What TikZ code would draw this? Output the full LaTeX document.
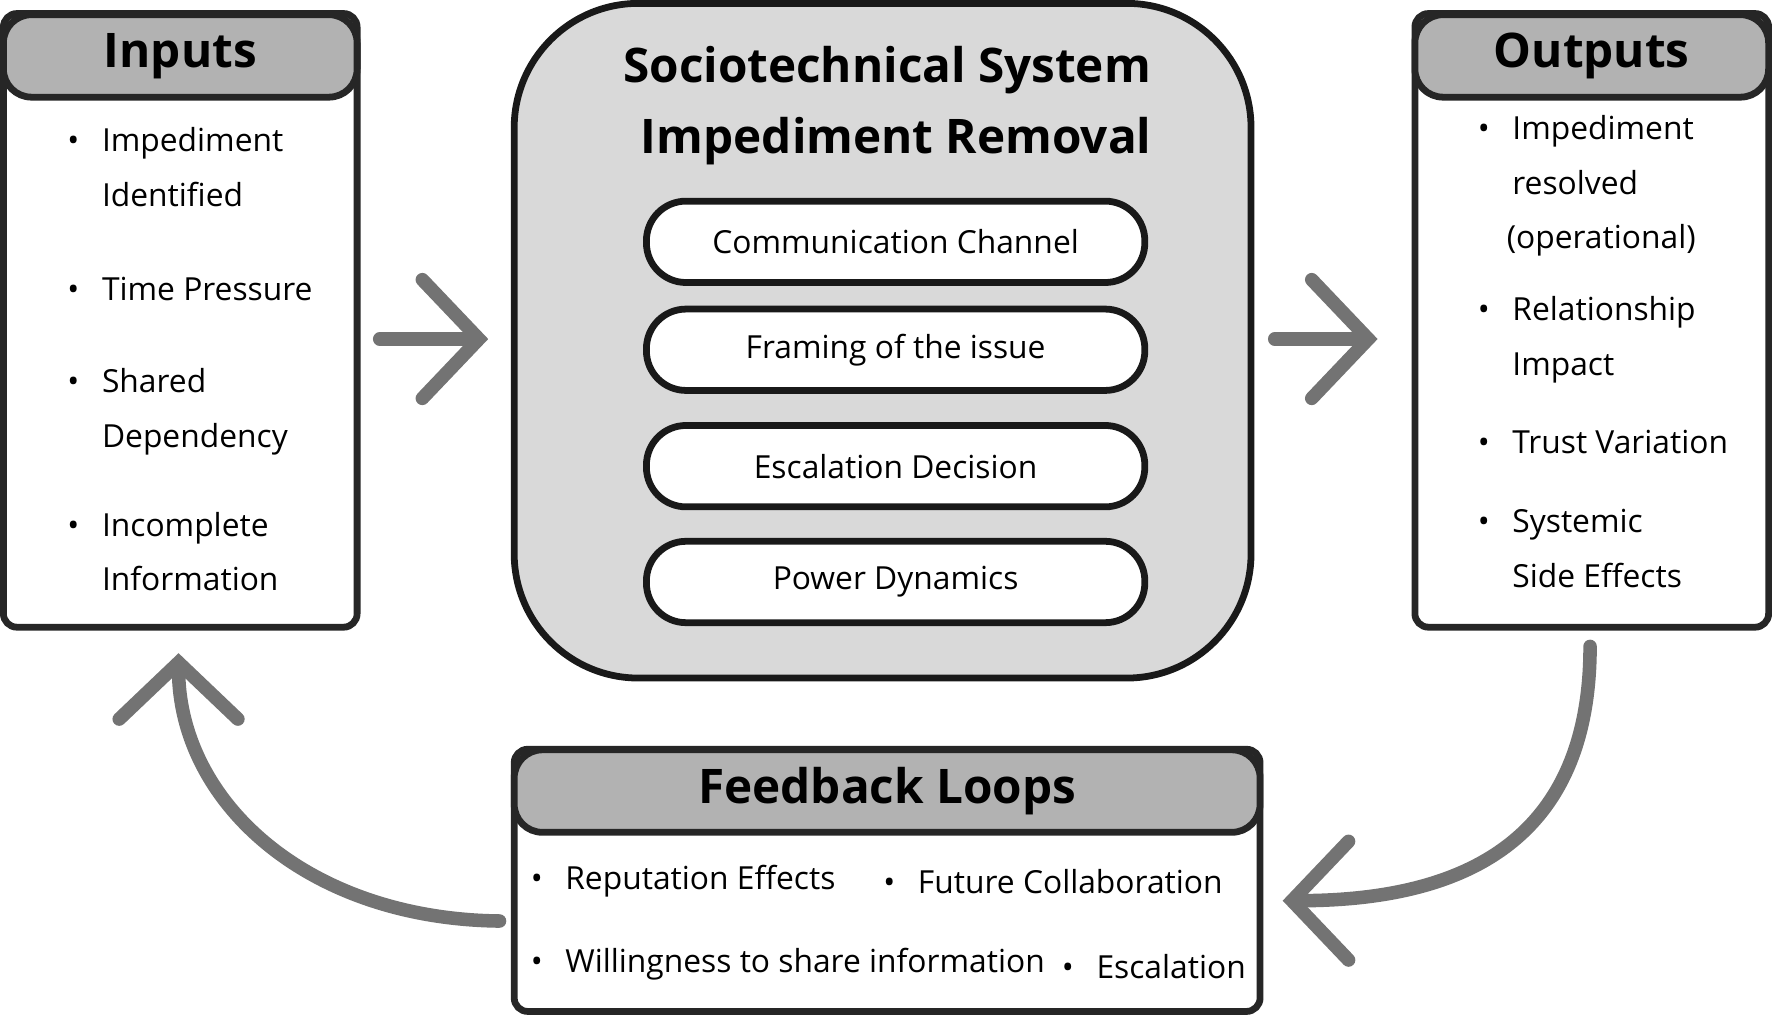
\documentclass[tikz,border=0pt]{standalone}
\usepackage{fontspec}
\setmainfont{Open Sans}
\usetikzlibrary{arrows.meta,positioning}

\begin{document}
\begin{tikzpicture}[
  box/.style={draw=black!85, line width=0.06cm, rounded corners=0.12cm, fill=white},
  head/.style={draw=black!85, line width=0.06cm, rounded corners=0.25cm, fill=black!30,
    minimum height=0.73cm, font=\fontsize{12}{14}\selectfont\bfseries},
  pill/.style={draw=black!90, line width=0.06cm, rounded corners=0.35cm, fill=white,
    minimum width=4.41cm, minimum height=0.72cm, font=\fontsize{8}{10}\selectfont},
  item/.style={anchor=west, inner sep=0pt, font=\fontsize{8}{10}\selectfont},
  flow/.style={draw=black!55, line width=0.12cm, line cap=round,
    -{Straight Barb[length=0.5cm, width=1.05cm, line cap=round]}},
]
\useasboundingbox (0,0) rectangle (15.68,8.98);
\newcommand{\pts}[2]{\begin{tabular}{@{}l@{\hspace{2mm}}l@{}}\textbullet & #1\\ #2\end{tabular}}
\renewcommand{\arraystretch}{1.38}

% inputs
\node [box, minimum width=3.13cm, minimum height=5.43cm] (In) at (1.595,6.145) {};
\node [head, minimum width=3.13cm] (InH) at (1.595,8.485) {Inputs};
\node [item] (i1) at (0.59,7.49) {\pts{Impediment}{& Identified}};
\node [item] (i2) at (0.59,6.42) {\pts{Time Pressure}{}};
\node [item] (i3) at (0.59,5.36) {\pts{Shared}{& Dependency}};
\node [item] (i4) at (0.59,4.09) {\pts{Incomplete}{& Information}};

% system
\node [draw=black!90, line width=0.06cm, rounded corners=1.1cm, fill=black!15,
  minimum width=6.52cm, minimum height=5.97cm] (Sys) at (7.81,5.965) {};
\node [font=\fontsize{12}{14}\selectfont\bfseries] (T1) at (7.85,8.36) {Sociotechnical System};
\node [font=\fontsize{12}{14}\selectfont\bfseries] (T2) at (7.93,7.73) {Impediment Removal};
\node [pill] (p1) at (7.925,6.84) {Communication Channel};
\node [pill] (p2) at (7.925,5.885) {Framing of the issue};
\node [pill] (p3) at (7.925,4.855) {Escalation Decision};
\node [pill] (p4) at (7.925,3.83) {Power Dynamics};

% outputs
\node [box, minimum width=3.13cm, minimum height=5.43cm] (Out) at (14.085,6.145) {};
\node [head, minimum width=3.13cm] (OutH) at (14.085,8.485) {Outputs};
\node [item] (o1) at (13.07,7.36) {\pts{Impediment}{& resolved\\ & \hspace{-0.5mm}(operational)}};
\node [item] (o2) at (13.07,6.00) {\pts{Relationship}{& Impact}};
\node [item] (o3) at (13.07,5.06) {\pts{Trust Variation}{}};
\node [item] (o4) at (13.07,4.12) {\pts{Systemic}{& Side Effects}};

% feedback
\node [box, minimum width=6.6cm, minimum height=2.32cm] (Fb) at (7.85,1.19) {};
\node [head, minimum width=6.6cm] (FbH) at (7.85,1.98) {Feedback Loops};
\node [item] (f1) at (4.69,1.18) {\textbullet\hspace{2mm}Reputation Effects};
\node [item] (f2) at (7.81,1.18) {\textbullet\hspace{2mm}Future Collaboration};
\node [item] (f3) at (4.69,0.45) {\textbullet\hspace{2mm}Willingness to share information};
\node [item] (f4) at (9.39,0.43) {\textbullet\hspace{2mm}Escalation};

% connectors
\draw [flow, shorten <=0.17cm, shorten >=0.2cm] (In.east |- 0,5.98) -- (Sys.west |- 0,5.98);
\draw [flow, shorten <=0.18cm, shorten >=0.3cm] (Sys.east |- 0,5.98) -- (Out.west |- 0,5.98);
\coordinate (oa) at (14.07,3.26);
\coordinate (ob) at (11.35,1.01);
\coordinate (fa) at (4.42,0.83);
\coordinate (fb) at (1.58,3.2);
\draw [flow] (oa) .. controls (14.07,1.5) and (12.9,1.01) .. (ob);
\draw [flow] (fa) .. controls (2.7,0.85) and (1.58,1.9) .. (fb);
\end{tikzpicture}
\end{document}
